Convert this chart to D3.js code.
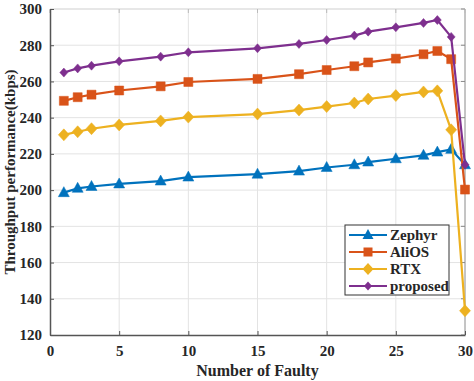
<!DOCTYPE html>
<html>
<head>
<meta charset="utf-8">
<script src="https://cdn.jsdelivr.net/npm/d3@7"></script>
<style>
  body { margin: 0; background: #fff; }
  text { font-family: "Liberation Serif", "Times New Roman", serif; font-weight: bold; fill: #262626; }
</style>
</head>
<body>
<div id="container"></div>
<script>
// number of faulty nodes on the x axis
const faulty = [1, 2, 3, 5, 8, 10, 15, 18, 20, 22, 23, 25, 27, 28, 29, 30];

const zephyr   = [198.6, 201, 202, 203.4, 205, 207.2, 208.8, 210.5, 212.5, 214, 215.5, 217.3, 219.2, 221, 222.5, 214];
const alios    = [249.3, 251.3, 252.7, 255, 257.3, 259.7, 261.4, 264, 266.3, 268.4, 270.5, 272.6, 275, 276.8, 272.3, 200.3];
const rtx      = [230.5, 232.2, 233.9, 236, 238.2, 240.3, 242, 244.2, 246.1, 248.1, 250.3, 252.2, 254.2, 254.8, 233.3, 133.4];
const proposed = [264.9, 267.2, 268.7, 271.1, 273.7, 276.1, 278.3, 280.7, 282.9, 285.3, 287.5, 289.9, 292.3, 293.9, 284.6, 214];

const xTicks = [0, 5, 10, 15, 20, 25, 30];
const yTicks = [120, 140, 160, 180, 200, 220, 240, 260, 280, 300];

const seriesNames = ["Zephyr", "AliOS", "RTX", "proposed"];
const seriesColors = ["#0072BD", "#D95319", "#EDB120", "#7E2F8E"];
const seriesMarkers = ["triangle", "square", "diamond", "smalldiamond"];
const seriesValues = [zephyr, alios, rtx, proposed];

const width = 474, height = 381;
const margin = {top: 9, right: 9, bottom: 46, left: 50};
const iw = width - margin.left - margin.right;
const ih = height - margin.top - margin.bottom;

const x = d3.scaleLinear().domain([0, 30]).range([0, iw]);
const y = d3.scaleLinear().domain([120, 300]).range([ih, 0]);

const svg = d3.select("#container").append("svg")
    .attr("width", width)
    .attr("height", height);

const g = svg.append("g")
    .attr("transform", "translate(" + [margin.left, margin.top] + ")");

// grid
g.append("g").selectAll("line")
    .data(xTicks.slice(1, -1))
    .enter().append("line")
    .attr("x1", d => x(d)).attr("x2", d => x(d))
    .attr("y1", 0).attr("y2", ih)
    .attr("stroke", "#e3e3e3").attr("stroke-width", 1);

g.append("g").selectAll("line")
    .data(yTicks.slice(1, -1))
    .enter().append("line")
    .attr("y1", d => y(d)).attr("y2", d => y(d))
    .attr("x1", 0).attr("x2", iw)
    .attr("stroke", "#e3e3e3").attr("stroke-width", 1);

// box top/right
g.append("line").attr("x1", 0).attr("x2", iw).attr("y1", 0).attr("y2", 0)
    .attr("stroke", "#cfcfcf").attr("stroke-width", 1);
g.append("line").attr("x1", iw).attr("x2", iw).attr("y1", 0).attr("y2", ih)
    .attr("stroke", "#8a8a8a").attr("stroke-width", 1);
g.append("g").selectAll("line")
    .data(yTicks)
    .enter().append("line")
    .attr("x1", iw - 4).attr("x2", iw)
    .attr("y1", d => y(d)).attr("y2", d => y(d))
    .attr("stroke", "#8a8a8a");
g.append("g").selectAll("line")
    .data(xTicks)
    .enter().append("line")
    .attr("x1", d => x(d)).attr("x2", d => x(d))
    .attr("y1", 0).attr("y2", 4)
    .attr("stroke", "#bbbbbb");

// axes
const xAxis = g.append("g")
    .attr("transform", `translate(0,${ih})`)
    .call(d3.axisBottom(x).tickValues(xTicks).tickSizeInner(-4).tickSizeOuter(0).tickPadding(10));
const yAxis = g.append("g")
    .call(d3.axisLeft(y).tickValues(yTicks).tickSizeInner(-4).tickSizeOuter(0).tickPadding(8));

[xAxis, yAxis].forEach(a => {
    a.select(".domain").attr("stroke", "#555").attr("stroke-width", 1.5);
    a.selectAll(".tick line").attr("stroke", "#555");
    a.selectAll(".tick text")
        .style("font-family", "'Liberation Serif', serif")
        .style("font-weight", "bold")
        .style("font-size", "15px")
        .attr("fill", "#262626");
});

// axis labels
svg.append("text")
    .attr("x", margin.left + iw / 2)
    .attr("y", 376)
    .attr("text-anchor", "middle")
    .style("font-size", "16px")
    .text("Number of Faulty");

svg.append("text")
    .attr("transform", `translate(15,${margin.top + ih / 2}) rotate(-90)`)
    .attr("text-anchor", "middle")
    .style("font-size", "15px")
    .text("Throughput performance(kbps)");

// marker shapes
function markerPath(type) {
    if (type === "triangle") return "M0,-6L5.5,4L-5.5,4Z";
    if (type === "square") return "M-4.5,-4.5H4.5V4.5H-4.5Z";
    if (type === "diamond") return "M0,-6L5.5,0L0,6L-5.5,0Z";
    return "M0,-4.5L4,0L0,4.5L-4,0Z";
}

const line = d3.line().x(d => x(d[0])).y(d => y(d[1]));

seriesValues.forEach((vals, i) => {
    const pts = faulty.map((f, j) => [f, vals[j]]);
    const sg = g.append("g");
    sg.append("path")
        .attr("d", line(pts))
        .attr("fill", "none")
        .attr("stroke", seriesColors[i])
        .attr("stroke-width", 2.2);
    sg.selectAll("path.mk")
        .data(pts)
        .enter().append("path")
        .attr("class", "mk")
        .attr("d", markerPath(seriesMarkers[i]))
        .attr("transform", d => `translate(${x(d[0])},${y(d[1])})`)
        .attr("fill", seriesColors[i])
        .attr("stroke", seriesColors[i])
        .attr("stroke-width", 0.5);
});

// legend
const lg = svg.append("g").attr("transform", "translate(345,225)");
lg.append("rect")
    .attr("width", 104).attr("height", 70)
    .attr("fill", "#fff").attr("stroke", "#333").attr("stroke-width", 1);
seriesNames.forEach((name, i) => {
    const yy = 10 + i * 17;
    lg.append("line")
        .attr("x1", 4).attr("x2", 42).attr("y1", yy).attr("y2", yy)
        .attr("stroke", seriesColors[i]).attr("stroke-width", 2.2);
    lg.append("path")
        .attr("d", markerPath(seriesMarkers[i]))
        .attr("transform", `translate(23,${yy})`)
        .attr("fill", seriesColors[i]);
    lg.append("text")
        .attr("x", 45).attr("y", yy + 5)
        .style("font-size", "15px")
        .text(name);
});
</script>
</body>
</html>
